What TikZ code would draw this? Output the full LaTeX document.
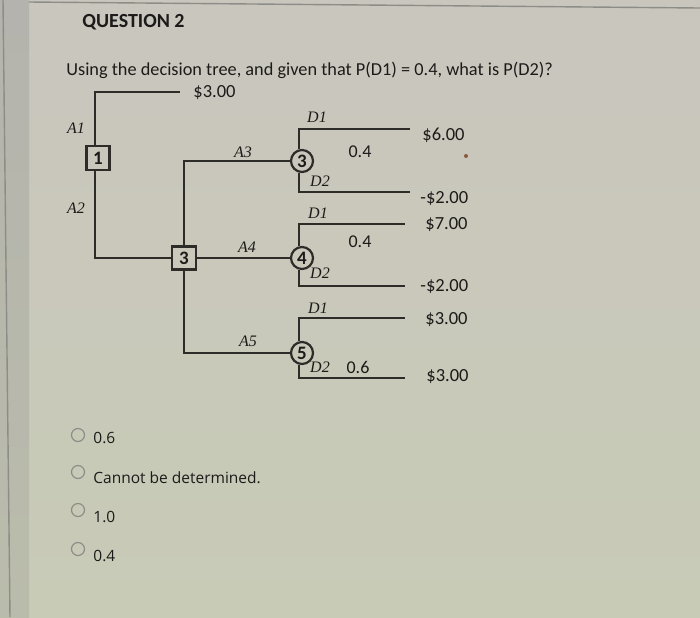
\documentclass[tikz,border=0pt]{standalone}
\usepackage{fontspec}
\usetikzlibrary{positioning}
\newfontfamily\calfont{Carlito}
\newfontfamily\tmsfont{Liberation Serif}
\newfontfamily\opfont{Open Sans}
\definecolor{paper}{HTML}{C9C6BE}
\definecolor{paperlow}{HTML}{C8CBB6}
\definecolor{edge}{HTML}{B4B3AD}
\definecolor{edgelow}{HTML}{BABCAB}
\definecolor{ink}{HTML}{1C1B19}
\definecolor{treeline}{HTML}{2E2C28}
\definecolor{radio}{HTML}{8C8D86}
\definecolor{speck}{HTML}{8A5A3A}

\begin{document}
\begin{tikzpicture}[x=0.5pt,y=-0.5pt,
  decbox/.style={draw=treeline,line width=1.1pt,minimum width=11.5pt,minimum height=12pt,inner sep=0pt,font=\calfont\bfseries\fontsize{9.5}{10}\selectfont,text=ink},
  chance/.style={draw=treeline,line width=1.1pt,circle,minimum size=11pt,inner sep=0pt,font=\calfont\bfseries\fontsize{9.5}{10}\selectfont,text=ink},
  alab/.style={font=\tmsfont\itshape\fontsize{8}{9}\selectfont,text=ink,inner sep=0pt},
  pay/.style={font=\calfont\fontsize{9.25}{10}\selectfont,text=ink,anchor=west,inner sep=0pt},
  prob/.style={font=\calfont\fontsize{9}{10}\selectfont,text=ink,inner sep=0pt},
  branch/.style={treeline,line width=1.1pt},
  radiobtn/.style={draw=radio,circle,line width=0.6pt,minimum size=6.5pt,inner sep=0pt},
  answer/.style={font=\opfont\fontsize{7.75}{9}\selectfont,text=ink,anchor=west,inner sep=0pt}]
  \useasboundingbox (0,0) rectangle (700,617);
  \fill[top color=paper,bottom color=paperlow] (0,0) rectangle (700,617);
  \fill[top color=edge,bottom color=edgelow] (0,0) rectangle (29,617);
  \draw[radio,line width=0.7pt] (3,0) -- (10,617);
  \draw[radio,line width=0.7pt] (29,2) -- (700,8);

  \node[font=\calfont\bfseries\fontsize{10}{12}\selectfont,text=ink,anchor=west,inner sep=0pt] (title) at (82,22) {QUESTION 2};
  \node[font=\calfont\fontsize{9.15}{11}\selectfont,text=ink,anchor=west,inner sep=0pt] (ask) at (66,70) {Using the decision tree, and given that P(D1) = 0.4, what is P(D2)?};

  \node[decbox] (d1) at (98,158) {1};
  \node[decbox,minimum width=12pt,minimum height=11.5pt] (d3) at (184,258) {3};
  \node[chance] (c3) at (302,161) {3};
  \node[chance] (c4) at (302,258) {4};
  \node[chance] (c5) at (302,353) {5};
  \coordinate (e0) at (180,92);
  \coordinate (e1) at (410,129);
  \coordinate (e2) at (410,192);
  \coordinate (e3) at (405,224);
  \coordinate (e4) at (405,286);
  \coordinate (e5) at (405,318);
  \coordinate (e6) at (405,378);

  \draw[branch] ([xshift=-1.5pt]d1.north) |- (e0);
  \draw[branch] ([xshift=-1.5pt]d1.south) |- (d3.west);
  \draw[branch] (d3.north) |- (c3.west);
  \draw[branch] (d3.east) -- (c4.west);
  \draw[branch] (d3.south) |- (c5.west);
  \draw[branch] ([xshift=-1.5pt]c3.north) |- (e1);
  \draw[branch] ([xshift=-1.5pt]c3.south) |- (e2);
  \draw[branch] ([xshift=-1.5pt]c4.north) |- (e3);
  \draw[branch] ([xshift=-1.5pt]c4.south) |- (e4);
  \draw[branch] ([xshift=-1.5pt]c5.north) |- (e5);
  \draw[branch] ([xshift=-1.5pt]c5.south) |- (e6);

  \node[alab] (a1) at (76,128) {A1};
  \node[alab] (a2) at (76,208) {A2};
  \node[alab] (a3) at (243,152) {A3};
  \node[alab] (a4) at (247,247) {A4};
  \node[alab] (a5) at (248,341) {A5};
  \node[alab] (d1a) at (317,117) {D1};
  \node[alab] (d2a) at (320,181) {D2};
  \node[alab] (d1b) at (318,213) {D1};
  \node[alab] (d2b) at (320,273) {D2};
  \node[alab] (d1c) at (318,308) {D1};
  \node[alab] (d2c) at (320,367) {D2};
  \node[prob] (pa) at (360,152) {0.4};
  \node[prob] (pb) at (360,242) {0.4};
  \node[prob] (pc) at (358,367) {0.6};

  \node[pay] (v0) at (193,93) {\$3.00};
  \node[pay] (v1) at (422,135) {\$6.00};
  \node[pay] (v2) at (420,199) {-\$2.00};
  \node[pay] (v3) at (425,225) {\$7.00};
  \node[pay] (v4) at (420,287) {-\$2.00};
  \node[pay] (v5) at (425,320) {\$3.00};
  \node[pay] (v6) at (426,377) {\$3.00};
  \fill[speck] (466,156) circle (2);

  \node[radiobtn] (r1) at (78,435) {};
  \node[radiobtn] (r2) at (78,472) {};
  \node[radiobtn] (r3) at (78,510) {};
  \node[radiobtn] (r4) at (78,549) {};
  \node[answer] (o1) at (93,438) {0.6};
  \node[answer] (o2) at (93,478) {Cannot be determined.};
  \node[answer] (o3) at (93,517) {1.0};
  \node[answer] (o4) at (93,556) {0.4};
\end{tikzpicture}
\end{document}
